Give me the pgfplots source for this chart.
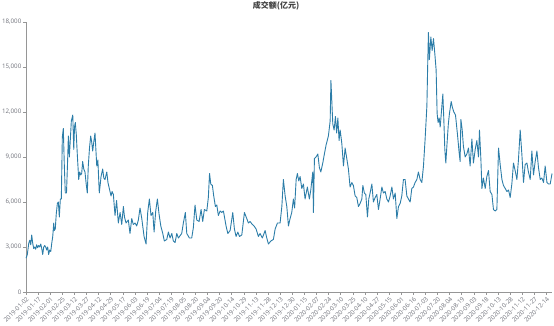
\documentclass[border=0pt]{standalone}
\usepackage{pgfplots}
\usepackage{pgfplotstable}
\pgfplotsset{compat=1.18}
\usepackage{fontspec}
\setmainfont{Open Sans}
\newfontfamily\cjk{Noto Sans CJK SC}
\definecolor{linec}{RGB}{44,125,168}
\definecolor{axc}{RGB}{150,150,150}
\definecolor{txtc}{RGB}{110,112,121}
\pgfplotstableread{
x y
0 2250
1.2 2500
2.5 3250
3.4 3450
4.3 3150
5.2 3800
6.1 3250
7 2900
7.9 3000
8.8 2850
9.7 3150
10.6 2950
11.5 3100
12.5 3000
13.4 3200
14.3 2900
15.2 2500
16.1 3000
17 3100
17.9 3000
18.8 2800
19.7 3000
20.6 2500
21.5 2800
22.5 2700
23.4 3250
24.3 3700
25.2 4600
25.7 4100
26.6 4200
27.5 5200
28.5 5900
29.4 6000
30.3 5000
31.2 6200
32.1 6200
33 10300
33.9 10900
34.8 8500
35.7 6600
36.8 6600
37.7 8500
38.5 10400
39.4 9000
40.3 10200
41.2 11400
42.5 11800
43.4 9500
44.1 11000
44.8 11300
45.7 10500
46.6 9200
47.9 7500
48.8 8000
49.7 7800
50.6 7900
51.5 8700
52.5 8200
53.6 8000
54.7 7200
55.7 6600
56.6 8400
57.7 9600
58.8 10400
59.7 10000
60.6 9400
61.6 10000
62.7 10600
64.3 8400
65.3 8800
66.6 6600
67.5 7200
68.2 7700
69.7 8200
70.7 7600
71.8 7500
73.4 8000
74.5 7300
75.7 6900
77.3 6400
78.2 6700
79.4 6500
80.9 5100
82.3 6100
83.9 4600
85.5 5300
87 4500
88.5 5700
89.5 5000
90.9 4600
93 4800
94.5 3900
96.1 4900
97.5 4500
99.1 4600
100.6 4400
102.1 4800
103.6 5600
105.2 4900
107.3 3700
109.1 3200
110.6 5300
112.1 6200
113.6 5100
115.2 5300
116.4 4000
117.9 5400
119.4 6200
120.9 5200
122.5 4400
124.3 3900
125.7 3400
127.9 3500
129.4 4000
130.9 3600
132.5 3900
133.9 3400
135.5 3300
137 3900
138.5 3600
141.5 3900
143 4600
144.8 5300
146.1 3900
148.5 3600
150.6 3600
152.1 4300
153.6 5800
155.2 4800
157.3 4700
159.1 5500
160.6 4700
162.1 5500
164.3 5400
165.7 6300
166.8 7900
167.9 7200
169.4 7100
170.6 6400
172.1 5700
173.4 5800
174.8 5100
176.4 5400
177.9 5300
179.4 5400
181.8 4400
183.4 3900
185.5 4100
187.9 5300
189.4 4200
190.9 3700
192.5 4000
194 3700
196.1 3800
198.5 5300
200.6 4900
202.1 4600
203.6 4700
205.7 4500
207.3 4400
209.1 4200
211.2 3700
212.7 3900
214.8 3600
217.3 4100
218.8 3600
220.3 3200
222.5 3400
224.8 3500
226.4 4200
228.5 4600
230.9 4600
232.5 5700
233.9 7500
235.5 6400
237 5700
238.5 4400
240 4900
241.5 5300
243 6200
244.1 5600
245.5 7500
246.6 7900
247.9 7400
249.1 7700
250.6 6900
252.1 7200
253.6 6200
255.7 7000
257.5 6200
258.8 6800
260.6 8000
261.2 5300
262.1 8900
263.6 9000
265.2 9200
266.6 8300
267.9 8000
269.7 8600
270.9 9100
272.7 9800
274.8 10400
276.4 11400
277.1 14100
278.8 11200
280 10800
281.2 11700
282.3 10600
283.4 11600
284.5 10100
285.5 10800
287 9900
288.5 8400
290 9600
291.5 8900
293 8200
294.5 7000
296.1 7300
297.5 7100
299.1 6400
300.6 6300
302.1 5700
303.6 5900
305.2 6200
306.1 7100
307.5 6600
308.8 6500
310.3 5000
311.5 6200
312.7 6600
314.3 7200
315.7 6000
317.3 6300
318.8 6500
320.3 5500
321.8 6200
323.4 7000
324.8 6600
326.4 6700
327.9 6200
329.4 6000
330.9 6400
332.5 7000
333.9 6200
335.5 6600
337 4900
338.5 5700
340 5900
341.5 6400
343 7500
344.5 7500
346.1 6400
347.5 6200
349.1 6000
350.6 6900
352.1 7000
353.6 7300
355.2 7500
356.6 8000
358.2 7500
359.7 7300
361.2 8400
362.7 10200
364.3 12400
365 15000
365.7 17300
366.6 15500
367.9 17000
369.1 16100
370.3 16900
371.5 15900
372.7 14800
373.6 11900
374.5 11300
375.5 11600
376.4 11000
377.5 12000
378.8 13200
379.7 11500
380.6 9500
381.5 8600
382.7 10000
383.8 11200
384.8 11900
386.4 12700
387.5 12300
388.8 12000
390.3 11800
392.1 10500
393.6 9300
394.5 8700
395.2 11500
396.4 10800
397.5 9700
399.1 9000
400.6 9200
402.1 9600
403.6 8400
405.2 10200
406.6 8600
408.2 9500
409.7 10100
411.2 9000
412.1 10800
413.4 8800
414.3 6900
415.7 7600
417.3 6900
418.8 7700
420.3 8100
421.8 6700
423.4 6500
424.8 5500
426.4 5400
427.9 5500
429.4 9600
430.9 8500
432.5 7500
433.9 7100
435.5 6900
437 6700
438.5 6800
440 6300
441.5 7200
443 8600
444.5 8100
446.1 7500
447.5 8800
449.1 10800
450.6 9200
452.1 7300
453.6 8500
455.2 8600
456.6 8000
458.2 7500
459.7 9400
461.2 7800
462.7 8700
464.3 9400
465.7 8300
467.3 7500
468.8 7600
470.3 7300
471.8 8400
473.4 7300
474.8 7200
476.4 7200
478 7900
}\vol
\begin{document}
\begin{tikzpicture}
\begin{axis}[
  at={(0,0)}, anchor=south west,
  scale only axis,
  width=526pt, height=270pt,
  xmin=0, xmax=478,
  ymin=0, ymax=18000,
  axis x line*=bottom,
  axis y line*=left,
  axis line style={draw=axc, line width=0.8pt},
  ytick={0,3000,6000,9000,12000,15000,18000},
  xtick={0,11,...,473},
  xticklabels={2019-01-02,2019-01-17,2019-02-01,2019-02-25,2019-03-12,2019-03-27,2019-04-12,2019-04-29,2019-05-17,2019-06-03,2019-06-19,2019-07-04,2019-07-19,2019-08-05,2019-08-20,2019-09-04,2019-09-20,2019-10-14,2019-10-29,2019-11-13,2019-11-28,2019-12-13,2019-12-30,2020-01-15,2020-02-07,2020-02-24,2020-03-10,2020-03-25,2020-04-10,2020-04-27,2020-05-15,2020-06-01,2020-06-16,2020-07-03,2020-07-20,2020-08-04,2020-08-19,2020-09-03,2020-09-18,2020-10-13,2020-10-28,2020-11-12,2020-11-27,2020-12-14},
  x tick label style={rotate=45, anchor=north east, font=\fontsize{6.2}{7}\selectfont, text=txtc, inner sep=1pt},
  y tick label style={font=\fontsize{6.2}{7}\selectfont, text=txtc, inner sep=1.5pt},
  /pgf/number format/.cd, 1000 sep={,}, assume math mode=true,
  /pgfplots/.cd,
  scaled y ticks=false,
  tick align=outside,
  major tick length=3pt,
  tick style={draw=axc, line width=0.6pt},
  clip=false,
]
\addplot[color=linec, line width=0.9pt, line join=round, mark=none] table[x=x, y=y] {\vol};
\end{axis}
\node[font=\cjk\bfseries\fontsize{8}{9}\selectfont, text=black!75] at (250pt,286.5pt) {成交额(亿元)};
\pgfresetboundingbox
\path[use as bounding box] (-26pt,-34pt) rectangle (528pt,292pt);
\end{tikzpicture}
\end{document}
